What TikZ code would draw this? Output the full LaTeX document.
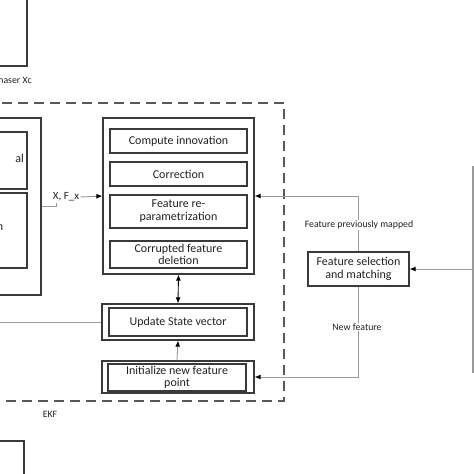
\documentclass[tikz,border=0pt]{standalone}
\usepackage{fontspec}
\setmainfont{Carlito}
\usetikzlibrary{arrows.meta}
\definecolor{boxc}{HTML}{3A3A3A}
\definecolor{linec}{HTML}{9A9A9A}
\definecolor{txtc}{HTML}{222222}
\tikzset{
  box/.style={draw=boxc, line width=1.2pt, rectangle, inner sep=1pt, align=center, text=txtc, font=\fontsize{12}{13}\selectfont},
  conn/.style={draw=linec, line width=0.9pt},
  tip/.style={-{Latex[black,length=6pt,width=5pt]}},
  lbl/.style={text=txtc, font=\fontsize{9.8}{11}\selectfont, inner sep=1pt},
  ekfbox/.style={draw=boxc!85, line width=1.4pt, dash pattern=on 10pt off 6pt, rectangle}
}
\begin{document}
\begin{tikzpicture}[x=1pt,y=-1pt]
\useasboundingbox (0,0) rectangle (474,474);
% partial boxes at the left edge
\node[box, minimum width=37pt, minimum height=76pt] (tl) at (8.5,28) {};
\node[lbl, anchor=east] (tltxt) at (33,80) {haser Xc};
\node[ekfbox, minimum width=294pt, minimum height=298pt] (ekf) at (137,252) {};
\node[lbl] (ekftxt) at (50,414) {EKF};
\node[box, minimum width=51pt, minimum height=177pt] (lb) at (15.5,206.5) {};
\node[box, minimum width=37pt, minimum height=57pt] (lb1) at (8.5,160.5) {};
\node[box, minimum width=37pt, minimum height=75pt] (lb2) at (8.5,230.5) {};
\node[text=txtc, font=\fontsize{12}{13}\selectfont, anchor=east, inner sep=0pt] (lb1t) at (24,158) {al};
\node[text=txtc, font=\fontsize{12}{13}\selectfont, anchor=east, inner sep=0pt] (lb2t) at (3.5,228) {n};
\node[box, minimum width=34pt, minimum height=43pt] (bl) at (7,462.5) {};
% middle column
\node[box, minimum width=151pt, minimum height=156pt] (mid) at (178.5,196) {};
\node[box, minimum width=137pt, minimum height=24pt] (ci) at (178.5,141) {Compute innovation};
\node[box, minimum width=137pt, minimum height=24pt] (corr) at (178.5,174) {Correction};
\node[box, minimum width=137pt, minimum height=33pt] (frp) at (178.5,211.5) {Feature re-\\parametrization};
\node[box, minimum width=137pt, minimum height=27pt, font=\fontsize{12}{12.5}\selectfont] (cfd) at (178.5,254.5) {Corrupted feature\\deletion};
\node[box, minimum width=152pt, minimum height=36pt] (upd) at (178,322) {};
\node[box, minimum width=138pt, minimum height=28pt] (updi) at (178,322) {Update State vector};
\node[box, minimum width=152pt, minimum height=32pt] (init) at (178,377) {};
\node[box, minimum width=138pt, minimum height=27pt, font=\fontsize{12}{12}\selectfont, inner sep=0pt] (initi) at (177,377.5) {Initialize new feature\\point};
% right
\node[box, minimum width=101pt, minimum height=34pt, font=\fontsize{12}{13.5}\selectfont] (fs) at (358.5,269) {Feature selection\\and matching};
\coordinate (r1) at (473,166);
\coordinate (r2) at (473,373);
\coordinate (rm) at (473,269);
\draw[draw=linec, line width=1.6pt] (r1) -- (r2);
\draw[conn, tip] (rm) -- (fs.east);
% connectors
\draw[conn, tip] (fs.north) |- (mid.east);
\node[lbl, fill=white] (fpm) at (359,225) {Feature previously mapped};
\draw[conn, tip] (fs.south) |- (init.east);
\node[lbl, fill=white] (nf) at (357,327) {New feature};
\draw[line width=0.9pt, {Latex[length=6pt,width=5pt]}-{Latex[length=6pt,width=5pt]}] (mid.south) -- (upd.north);
\draw[conn, tip] (initi.north |- init.north) -- (upd.south);
\coordinate (lin) at (0,322);
\draw[conn] (lin) -- (upd.west);
\node[lbl, font=\fontsize{11}{12}\selectfont] (xl) at (66,197) {X, F\_x};
\draw[conn] ([yshift=0.5pt]lb.east) -| ([xshift=5pt,yshift=-1pt]xl.south west);
\draw[conn, tip] (xl.east) -- (mid.west);
\end{tikzpicture}
\end{document}
